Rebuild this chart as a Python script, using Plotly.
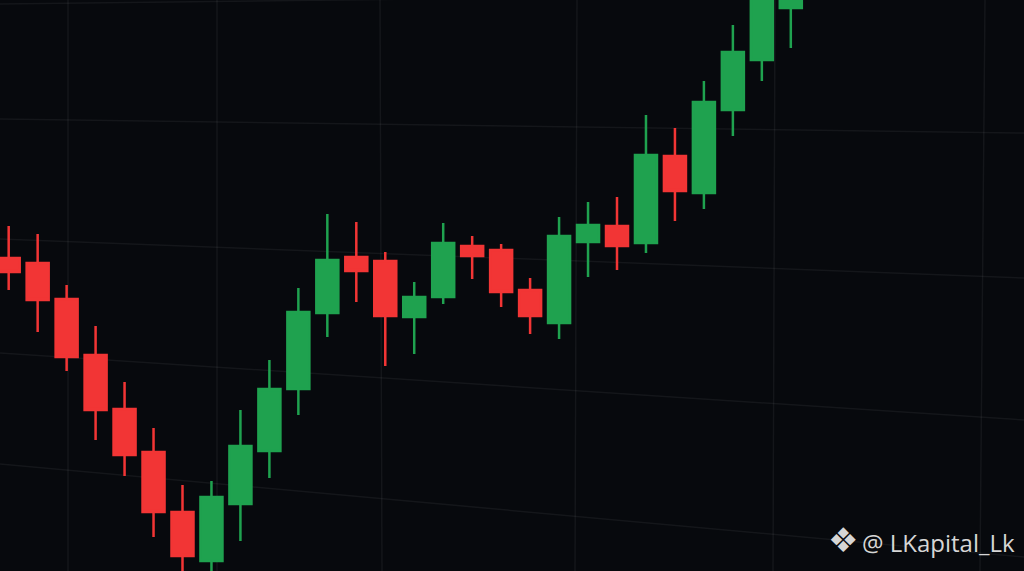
import plotly.graph_objects as go

# Candle index (one per period)
periods = list(range(28))

opens = [313, 308, 272, 216, 162, 119, 59, 10, 67, 120, 182, 258, 314, 310,
         254, 274, 325, 321, 281, 248, 329, 345, 328, 415, 378, 461, 511, 563]
highs = [345, 337, 286, 245, 189, 143, 86, 90, 161, 211, 283, 357, 349, 319,
         289, 348, 335, 327, 293, 354, 369, 374, 456, 443, 490, 546, 601, 631]
lows = [281, 239, 200, 131, 95, 34, -8, -10, 30, 93, 156, 234, 269, 205,
        217, 267, 292, 264, 237, 232, 294, 301, 318, 350, 362, 435, 490, 523]
closes = [299, 271, 214, 161, 116, 59, 15, 74, 125, 182, 259, 311, 300, 255,
          274, 328, 315, 279, 255, 335, 346, 325, 416, 380, 469, 519, 586, 611]

BG = "#07090d"
GREEN = "#1fa24f"
RED = "#f23535"
GRID = "rgba(255,255,255,0.055)"

W, H = 1024, 571

fig = go.Figure(go.Candlestick(
    x=periods, open=opens, high=highs, low=lows, close=closes,
    increasing=dict(line=dict(color=GREEN, width=2.5), fillcolor=GREEN),
    decreasing=dict(line=dict(color=RED, width=2.5), fillcolor=RED),
    whiskerwidth=0,
    hoverinfo="none",
))

# faint perspective grid (decoration), in pixel terms converted to paper coords
h_lines = [(4, -8), (119, 133), (239, 278), (353, 420), (464, 557)]
v_lines = [(68, 68), (217, 217), (380, 382), (577, 575), (775, 773), (985, 980)]
shapes = []
for y0, y1 in h_lines:
    shapes.append(dict(type="line", xref="paper", yref="paper",
                       x0=0, x1=1, y0=1 - y0 / H, y1=1 - y1 / H,
                       line=dict(color=GRID, width=1.5), layer="below"))
for x0, x1 in v_lines:
    shapes.append(dict(type="line", xref="paper", yref="paper",
                       x0=x0 / W, x1=x1 / W, y0=1, y1=0,
                       line=dict(color=GRID, width=1.5), layer="below"))

fig.update_layout(
    width=W, height=H,
    margin=dict(l=0, r=0, t=0, b=0),
    paper_bgcolor=BG, plot_bgcolor=BG,
    showlegend=False,
    boxgap=0.2, boxgroupgap=0.05,
    shapes=shapes,
    xaxis=dict(range=[-0.3, 35.05], visible=False, showgrid=False,
               rangeslider=dict(visible=False), fixedrange=True),
    yaxis=dict(range=[0, 571], visible=False, showgrid=False, fixedrange=True),
    annotations=[
        dict(text="@ LKapital_Lk", xref="paper", yref="paper",
             x=1017 / W, y=1 - 561 / H, xanchor="right", yanchor="bottom",
             showarrow=False,
             font=dict(family="Open Sans", size=24, color="#d6d6d6")),
        dict(text="❖", xref="paper", yref="paper",
             x=860 / W, y=1 - 562 / H, xanchor="right", yanchor="bottom",
             showarrow=False,
             font=dict(family="DejaVu Sans", size=34, color="#d6d6d6")),
    ],
)

fig.write_html(
    "out.html", config={"displayModeBar": False},
    post_script="document.body.style.margin='0';document.body.style.background='#07090d';",
)
